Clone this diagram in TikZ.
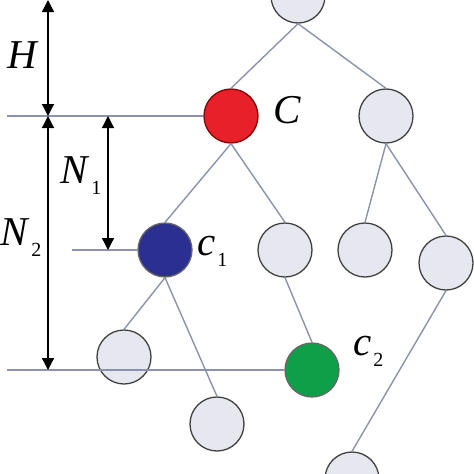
\documentclass[tikz,border=0pt]{standalone}
\usepackage{fontspec}
\setmainfont{Liberation Serif}
\usetikzlibrary{arrows.meta}
\definecolor{edgecol}{HTML}{8A92AE}
\definecolor{grayfill}{HTML}{E6E7EF}
\definecolor{redfill}{HTML}{E8202A}
\definecolor{bluefill}{HTML}{2B2F8F}
\definecolor{greenfill}{HTML}{0E9F48}
\newcommand{\sublbl}[2]{\textit{#1}\hspace{2pt}\raisebox{-11pt}{\fontsize{20}{20}\selectfont #2}}

\begin{document}
\begin{tikzpicture}[x=1pt, y=-1pt,
      font=\fontsize{41}{45}\selectfont,
      nd/.style={circle, draw=black!75, line width=1.3pt, fill=grayfill, minimum size=54pt, inner sep=0pt},
      hit/.style={nd, draw=black!60},
      edge/.style={draw=edgecol, line width=1.4pt},
      dim/.style={line width=1.3pt, {Triangle[length=12pt,width=12pt]}-{Triangle[length=12pt,width=12pt]}},
      lbl/.style={anchor=base west, inner sep=0pt}]
    \useasboundingbox (0,0) rectangle (474,474);
    % tree
    \node[nd] (top) at (298,-4) {};
    \node[hit, fill=redfill, draw=red!50!black] (C) at (231,116) {};
    \node[nd] (R) at (386,116) {};
    \node[hit, fill=bluefill] (c1) at (165,250) {};
    \node[nd] (m) at (285,250) {};
    \node[nd] (r1) at (365,250) {};
    \node[nd] (r2) at (446,263) {};
    \node[nd] (l1) at (124,357) {};
    \node[nd] (l2) at (217,424) {};
    \node[hit, fill=greenfill] (c2) at (312,370) {};
    \node[nd] (b) at (352,479) {};
    \draw[edge] (top.south) -- (C.north);
    \draw[edge] (top.south) -- (R.north);
    \draw[edge] (C.south) -- (c1.north);
    \draw[edge] (C.south) -- (m.north);
    \draw[edge] (R.south) -- (r1.north);
    \draw[edge] (R.south) -- (r2.north);
    \draw[edge] (c1.south) -- (l1.north);
    \draw[edge] (c1.south) -- (l2.north);
    \draw[edge] (m.south) -- (c2.north);
    \draw[edge] (r2.south) -- (b.north);
    % level lines
    \coordinate (h0) at (7,116);
    \coordinate (h1) at (72,250);
    \coordinate (h2) at (7,370);
    \draw[edge] (h0) -- (C.west);
    \draw[edge] (h1) -- (c1.west);
    \draw[edge] (h2) -- (c2.west);
    % distances
    \coordinate (a0) at (48,0);
    \coordinate (a1) at (48,116);
    \coordinate (a2) at (48,370);
    \coordinate (b1) at (108,116);
    \coordinate (b2) at (108,250);
    \draw[dim] (a0) -- (a1);
    \draw[dim] (a1) -- (a2);
    \draw[dim] (b1) -- (b2);
    % labels
    \node[lbl] (lH) at (7,68) {\textit{H}};
    \node[lbl] (lN1) at (60,183) {\sublbl{N}{1}};
    \node[lbl] (lN2) at (0,245) {\sublbl{N}{2}};
    \node[lbl] (lC) at (273,123) {\textit{C}};
    \node[lbl] (lc1) at (197,255) {\sublbl{c}{1}};
    \node[lbl] (lc2) at (353,355) {\sublbl{c}{2}};
\end{tikzpicture}
\end{document}
